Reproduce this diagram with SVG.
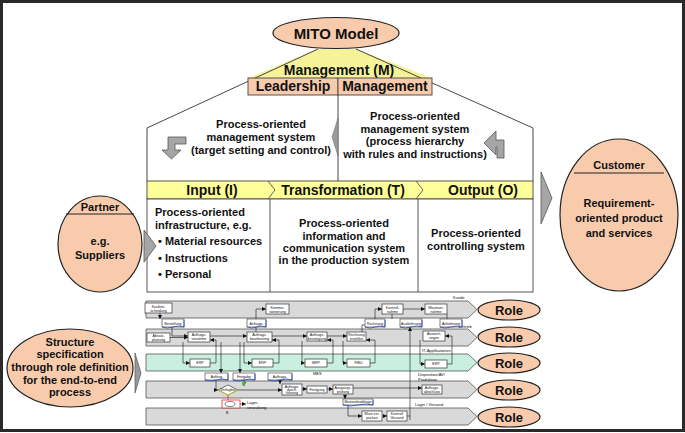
<svg xmlns="http://www.w3.org/2000/svg" width="685" height="433" viewBox="0 0 685 433">
<style>
text{font-family:"Liberation Sans",Arial,sans-serif;fill:#111}
.b{font-weight:bold}
.t11{font-size:11px;font-weight:bold}
.t14{font-size:14px;font-weight:bold}
.tiny{font-size:3.6px;text-anchor:middle}
.lab{font-size:4px}
.peach{fill:#f8cbad;stroke:#222;stroke-width:1.2}
.lane{fill:#d9d9d9;stroke:#555;stroke-width:0.8}
.box{fill:#fff;stroke:#333;stroke-width:0.7}
.doc{fill:#fff;stroke:#333;stroke-width:0.6}
.wave{fill:none;stroke:#2244bb;stroke-width:0.8}
.c{fill:none;stroke:#111;stroke-width:0.6;marker-end:url(#ah)}
.cn{fill:none;stroke:#111;stroke-width:0.6}
.garrow{fill:#a6a6a6;stroke:#555;stroke-width:0.8}
.role{font-size:13px;font-weight:bold;text-anchor:middle}
.mid{text-anchor:middle}
</style>
<defs>
<marker id="ah" viewBox="0 0 6 6" refX="6" refY="3" markerWidth="4" markerHeight="4" orient="auto" markerUnits="userSpaceOnUse"><path d="M0,0 L6,3 L0,6 z" fill="#111"/></marker>
</defs>
<rect x="0" y="0" width="685" height="433" fill="#fff"/>
<rect x="1.5" y="1.5" width="682" height="429" fill="none" stroke="#2a2a2a" stroke-width="3"/>

<g id="house">
<polygon points="318,49 356,49 432,78 248,78" fill="#f5f29a"/>
<polyline points="147,181 147,128 318,49" fill="none" stroke="#333" stroke-width="0.9"/>
<polyline points="533,181 533,128 356,49" fill="none" stroke="#333" stroke-width="0.9"/>
<line x1="338" y1="95" x2="338" y2="181" stroke="#333" stroke-width="0.9"/>
<text x="339" y="75" class="t14 mid">Management (M)</text>
</g>

<g id="mito">
<ellipse cx="336" cy="33" rx="63" ry="15.5" class="peach"/>
<text x="336" y="38.5" class="mid b" font-size="15">MITO Model</text>
</g>

<g id="leadership">
<rect x="248" y="78" width="90" height="17" fill="#f8cbad" stroke="#444" stroke-width="0.9"/>
<text x="293" y="91" class="t14 mid">Leadership</text>
</g>
<g id="management">
<rect x="338" y="78" width="94" height="17" fill="#f8cbad" stroke="#444" stroke-width="0.9"/>
<text x="385" y="91" class="t14 mid">Management</text>
</g>

<g id="mgmt-left">
<text x="261" y="128" class="t11 mid" font-size="10.3">Process-oriented</text>
<text x="261" y="141" class="t11 mid" font-size="10.3">management system</text>
<text x="261" y="154" class="t11 mid" font-size="10.3">(target setting and control)</text>
<polygon points="338,118 332,137 338,156" fill="#9a9a9a" stroke="#666" stroke-width="0.5"/>
<path d="M186,137 L186,144 L175,144 L175,150 L181,150 L171.5,159 L162,150 L168,150 L168,137 Z" class="garrow"/>
</g>

<g id="mgmt-right">
<text x="415" y="120" class="t11 mid" font-size="10.3">Process-oriented</text>
<text x="415" y="133" class="t11 mid" font-size="10.3">management system</text>
<text x="415" y="145" class="t11 mid" font-size="10.3">(process hierarchy</text>
<text x="415" y="158" class="t11 mid" font-size="10.3">with rules and instructions)</text>
<path d="M504,158 L504,140 L496,140 L496,131 L484,143 L496,155 L496,147 L497,147 L497,158 Z" class="garrow"/>
</g>

<g id="iot">
<rect x="147" y="181" width="386" height="18" fill="#ffff99" stroke="#444" stroke-width="0.9"/>
<rect x="147" y="199" width="386" height="93" fill="#fff" stroke="#444" stroke-width="0.9"/>
<line x1="270" y1="199" x2="270" y2="292" stroke="#444" stroke-width="0.9"/>
<line x1="418" y1="199" x2="418" y2="292" stroke="#444" stroke-width="0.9"/>
<polyline points="268,181 275,190 268,199" fill="none" stroke="#555" stroke-width="0.9"/>
<polyline points="416,181 423,190 416,199" fill="none" stroke="#555" stroke-width="0.9"/>
</g>
<g id="input">
<text x="212" y="195" class="t14 mid">Input (I)</text>
<text x="155" y="216" class="t11">Process-oriented</text>
<text x="155" y="229" class="t11">infrastructure, e.g.</text>
<text x="158" y="245" class="t11">•  Material resources</text>
<text x="158" y="262" class="t11">•  Instructions</text>
<text x="158" y="278" class="t11">•  Personal</text>
</g>
<g id="transformation">
<text x="343" y="195" class="t14 mid">Transformation (T)</text>
<text x="344" y="227" class="t11 mid">Process-oriented</text>
<text x="344" y="240" class="t11 mid">information and</text>
<text x="344" y="252" class="t11 mid">communication system</text>
<text x="344" y="264" class="t11 mid">in the production system</text>
</g>
<g id="output">
<text x="483" y="195" class="t14 mid">Output (O)</text>
<text x="476" y="237" class="t11 mid">Process-oriented</text>
<text x="476" y="250" class="t11 mid">controlling system</text>
</g>

<g id="partner">
<ellipse cx="100" cy="244" rx="42" ry="48" class="peach"/>
<line x1="66" y1="214" x2="134" y2="214" stroke="#222" stroke-width="1"/>
<text x="100" y="211" class="t11 mid">Partner</text>
<text x="100" y="245" class="t11 mid">e.g.</text>
<text x="100" y="259" class="t11 mid">Suppliers</text>
</g>
<g id="customer">
<ellipse cx="619" cy="215" rx="59" ry="76" class="peach"/>
<line x1="574" y1="173" x2="664" y2="173" stroke="#222" stroke-width="1"/>
<text x="619" y="169" class="t11 mid">Customer</text>
<text x="619" y="207" class="t11 mid">Requirement-</text>
<text x="619" y="222" class="t11 mid">oriented product</text>
<text x="619" y="237" class="t11 mid">and services</text>
</g>
<g id="structure">
<ellipse cx="70" cy="368" rx="63" ry="39" class="peach"/>
<text x="70" y="346" class="t11 mid">Structure</text>
<text x="70" y="358" class="t11 mid">specification</text>
<text x="70" y="371" class="t11 mid">through role definition</text>
<text x="70" y="384" class="t11 mid">for the end-to-end</text>
<text x="70" y="396" class="t11 mid">process</text>
</g>

<g id="connectors-main">
<polygon points="144,230 156,246 144,262" class="garrow"/>
<polygon points="541,172 552,198 541,224" class="garrow"/>
<polygon points="135,353 141,373 135,393" fill="#999" stroke="#444" stroke-width="0.6"/>
</g>

<g id="lanes">
<polygon points="146,301 468,301 477,309.5 468,318 146,318" class="lane"/>
<polygon points="146,329 468,329 477,337.5 468,346 146,346" class="lane"/>
<polygon points="146,354 468,354 477,362.5 468,371 146,371" fill="#c9efdf" stroke="#555" stroke-width="0.8"/>
<polygon points="146,381 468,381 477,389.5 468,398 146,398" class="lane"/>
<polygon points="146,408 468,408 477,416.5 468,425 146,425" class="lane"/>
<text x="453" y="299" class="lab">Kunde</text>
<text x="458" y="328" class="lab">Vertrieb</text>
<text x="422" y="352" class="lab">IT-Applikationen</text>
<text x="313" y="375" class="lab">MES</text>
<text x="418" y="376" class="lab">Disposition/AV/</text>
<text x="418" y="380.5" class="lab">Produktion</text>
<text x="415" y="406" class="lab">Lager / Versand</text>
<text x="226" y="414" class="lab">E</text>
</g>

<g id="roles">
<g id="role1"><ellipse cx="509" cy="310" rx="31" ry="10" class="peach"/><text x="509" y="314.5" class="role">Role</text></g>
<g id="role2"><ellipse cx="509" cy="337" rx="31" ry="10" class="peach"/><text x="509" y="341.5" class="role">Role</text></g>
<g id="role3"><ellipse cx="509" cy="363" rx="31" ry="10" class="peach"/><text x="509" y="367.5" class="role">Role</text></g>
<g id="role4"><ellipse cx="509" cy="390" rx="31" ry="10" class="peach"/><text x="509" y="394.5" class="role">Role</text></g>
<g id="role5"><ellipse cx="509" cy="417" rx="31" ry="10" class="peach"/><text x="509" y="421.5" class="role">Role</text></g>
</g>

<g id="process-connectors">
<path class="c" d="M160,313 V319"/>
<path class="c" d="M172,327 V336 H188"/>
<path class="c" d="M170,337.5 H188"/>
<path class="c" d="M183,342 V363 H190"/>
<path class="c" d="M210,363 H216 V340 H210"/>
<path class="c" d="M221,342 V373"/>
<path class="c" d="M240,342 V373"/>
<path class="c" d="M210,336 H247"/>
<path class="cn" d="M256,332 V327"/>
<path class="c" d="M256,319 V309 H266"/>
<path class="c" d="M244,342 V363 H252"/>
<path class="c" d="M273,363 H279 V340 H272"/>
<path class="c" d="M272,336 H307"/>
<path class="c" d="M302,341 V363 H305"/>
<path class="c" d="M327,363 H333 V340 H327"/>
<path class="c" d="M327,336 H347"/>
<path class="c" d="M343,341 V363 H347"/>
<path class="c" d="M370,363 H375 V340 H366"/>
<path class="cn" d="M362,332 V325 H365"/>
<path class="c" d="M375,319 V309 H382"/>
<path class="c" d="M403,309 H425"/>
<path class="c" d="M410,420 V327"/>
<path class="cn" d="M392,319 V314"/>
<path class="cn" d="M447,319 V314"/>
<path class="c" d="M420,340 V364 H425"/>
<path class="c" d="M447,364 H452 V336 H445"/>
<path class="c" d="M216,380 V390 H218"/>
<path class="c" d="M244,380 V386"/>
<path class="c" d="M238,390 H282"/>
<path class="c" d="M280,380 V384"/>
<path class="c" d="M302,389 H307"/>
<path class="c" d="M327,389 H333"/>
<path class="c" d="M353,388 H422"/>
<path class="c" d="M345,394 V399"/>
<path class="c" d="M348,405 V416 H362"/>
<path class="c" d="M382,416 H387"/>
<path class="cn" d="M407,416 H410"/>
<path fill="none" stroke="#d22" stroke-width="0.8" d="M228,395 V400"/>
<path class="c" d="M240,404 H246"/>
</g>

<g id="process-nodes">
<g><rect x="145" y="303" width="27" height="10" class="box"/><text x="158.5" y="307.5" class="tiny">Kaufent-</text><text x="158.5" y="311.5" class="tiny">scheidung</text></g>
<g><rect x="266" y="304" width="23" height="10" class="box"/><text x="277.5" y="308.5" class="tiny">Kommis-</text><text x="277.5" y="312.5" class="tiny">sionierung</text></g>
<g><rect x="382" y="304" width="21" height="10" class="box"/><text x="392.5" y="308.5" class="tiny">Kontroll-</text><text x="392.5" y="312.5" class="tiny">nahme</text></g>
<g><rect x="425" y="304" width="22" height="10" class="box"/><text x="436" y="308.5" class="tiny">Warenan-</text><text x="436" y="312.5" class="tiny">nahme</text></g>

<g><rect x="162" y="319" width="22" height="8" class="doc"/><path class="wave" d="M162,327 q5,2 11,0 t11,0 V320"/><text x="173" y="324.5" class="tiny">Bestellung</text></g>
<g><rect x="247" y="319" width="19" height="8" class="doc"/><path class="wave" d="M247,327 q5,2 9.5,0 t9.5,0 V320"/><text x="256.5" y="324.5" class="tiny">Anfrage-</text></g>
<g><rect x="365" y="319" width="20" height="8" class="doc"/><path class="wave" d="M365,327 q5,2 10,0 t10,0 V320"/><text x="375" y="324.5" class="tiny">Rechnung</text></g>
<g><rect x="400" y="319" width="22" height="8" class="doc"/><path class="wave" d="M400,327 q5,2 11,0 t11,0 V320"/><text x="411" y="324.5" class="tiny">Auslieferung</text></g>
<g><rect x="440" y="319" width="22" height="8" class="doc"/><path class="wave" d="M440,327 q5,2 11,0 t11,0 V320"/><text x="451" y="324.5" class="tiny">Anlieferung</text></g>

<g><rect x="147" y="333" width="23" height="9" class="box"/><text x="158.5" y="337" class="tiny">Absatz-</text><text x="158.5" y="340.8" class="tiny">planung</text></g>
<g><rect x="188" y="332" width="22" height="10" class="box"/><text x="199" y="336" class="tiny">Auftrags-</text><text x="199" y="340" class="tiny">annahme</text></g>
<g><rect x="247" y="332" width="25" height="10" class="box"/><text x="259.5" y="336" class="tiny">Auftrags-</text><text x="259.5" y="340" class="tiny">bearbeitung</text></g>
<g><rect x="307" y="332" width="20" height="9" class="box"/><text x="317" y="336" class="tiny">Auftrags-</text><text x="317" y="339.8" class="tiny">bestätigung</text></g>
<g><rect x="347" y="332" width="19" height="9" class="box"/><text x="356.5" y="336" class="tiny">Rechnung</text><text x="356.5" y="339.8" class="tiny">erstellen</text></g>
<g><rect x="423" y="331" width="22" height="10" class="box"/><text x="434" y="335" class="tiny">Auswert-</text><text x="434" y="339" class="tiny">ungen</text></g>

<g><rect x="190" y="359" width="20" height="8" class="box"/><text x="200" y="364.3" class="tiny">ERP</text></g>
<g><rect x="252" y="359" width="21" height="8" class="box"/><text x="262.5" y="364.3" class="tiny">ERP</text></g>
<g><rect x="305" y="359" width="22" height="8" class="box"/><text x="316" y="364.3" class="tiny">MRP</text></g>
<g><rect x="347" y="359" width="23" height="8" class="box"/><text x="358.5" y="364.3" class="tiny">FIBU</text></g>
<g><rect x="425" y="360" width="22" height="8" class="box"/><text x="436" y="365.3" class="tiny">ERP</text></g>

<g><rect x="205" y="373" width="23" height="7" class="doc"/><path class="wave" d="M205,380 q6,2 11.5,0 t11.5,0 V374"/><text x="216.5" y="378" class="tiny">Auftrag</text></g>
<g><rect x="233" y="373" width="22" height="7" class="doc"/><path class="wave" d="M233,380 q5,2 11,0 t11,0 V374"/><text x="244" y="378" class="tiny">Freigabe</text><rect x="242" y="382" width="3" height="3" fill="#3c3"/></g>
<g><rect x="268" y="373" width="24" height="7" class="doc"/><path class="wave" d="M268,380 q6,2 12,0 t12,0 V374"/><text x="280" y="378" class="tiny">Auftrags-</text></g>

<g><polygon points="218,390 228,385 238,390 228,395" fill="#fff" stroke="#333" stroke-width="0.7"/><path d="M218,390 L228,395 L238,390" fill="none" stroke="#dd0" stroke-width="0.8"/><text x="228" y="391.2" class="tiny" font-size="3.2">Verfügbar</text></g>
<g><rect x="282" y="384" width="20" height="11" class="box"/><text x="292" y="387.5" class="tiny">Auftrags-</text><text x="292" y="390.8" class="tiny">durch-</text><text x="292" y="394.1" class="tiny">führung</text></g>
<g><rect x="307" y="386" width="20" height="7" class="box"/><text x="317" y="390.8" class="tiny">Fertigung</text></g>
<g><rect x="333" y="385" width="20" height="9" class="box"/><text x="343" y="389" class="tiny">Ausgangs-</text><text x="343" y="392.8" class="tiny">prüfung</text></g>
<g><rect x="422" y="385" width="20" height="9" class="box"/><text x="432" y="389" class="tiny">Auftrags-</text><text x="432" y="392.8" class="tiny">abschluss</text></g>

<g><rect x="222" y="400" width="18" height="8" fill="#fff" stroke="#d33" stroke-width="0.8"/><ellipse cx="230" cy="404" rx="5" ry="2.5" fill="#fff" stroke="#333" stroke-width="0.6"/><text x="247" y="404" class="lab">Lager-</text><text x="247" y="409" class="lab">verwaltung</text></g>
<g><rect x="343" y="399" width="30" height="6" class="doc"/><path class="wave" d="M343,405 q7,2 15,0 t15,0 V400"/><text x="358" y="403.3" class="tiny">Bestandsabfrage</text></g>

<g><rect x="362" y="411" width="20" height="10" class="box"/><text x="372" y="415" class="tiny">Ware ver-</text><text x="372" y="419" class="tiny">packen</text></g>
<g><rect x="387" y="411" width="20" height="10" class="box"/><text x="397" y="415" class="tiny">Kontrol/</text><text x="397" y="419" class="tiny">Versand</text></g>
</g>
</svg>
